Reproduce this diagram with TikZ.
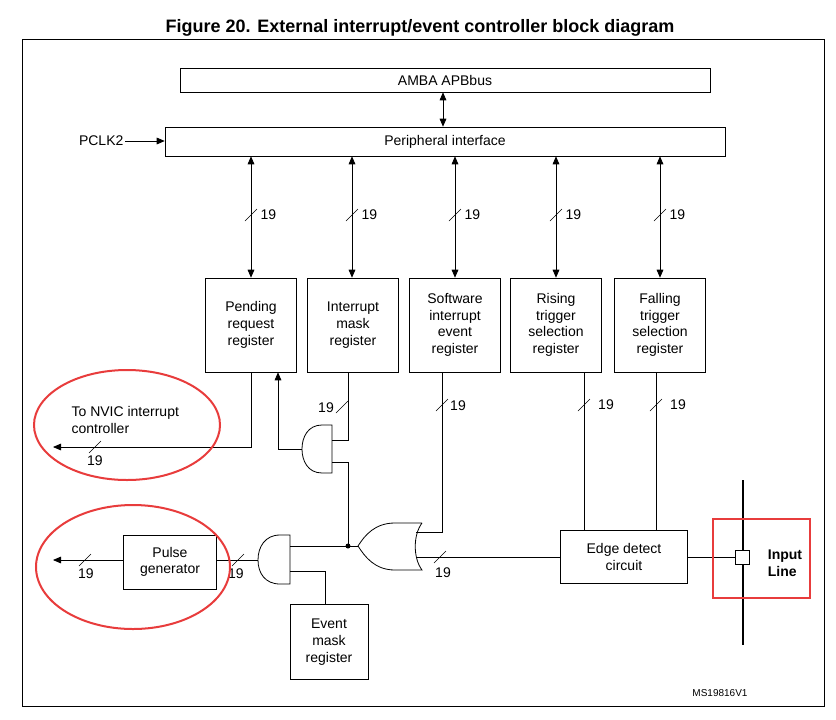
\documentclass[tikz,border=0pt]{standalone}
\usepackage{fontspec}
\setmainfont{Liberation Sans}
\usetikzlibrary{arrows.meta}
\tikzset{
  reg/.style={draw,minimum width=68.25pt,minimum height=70.5pt,inner sep=1pt,align=center,font=\fontsize{10.5}{12.5}\selectfont},
  lbl/.style={font=\fontsize{10.5}{12.5}\selectfont,inner sep=1pt},
  wire/.style={line width=0.6pt},
  dbl/.style={line width=0.6pt,{Triangle[length=6pt,width=5pt]}-{Triangle[length=6pt,width=5pt]}},
  tip/.style={line width=0.6pt,-{Triangle[length=6pt,width=5pt]}},
  redmark/.style={draw={rgb,255:red,232;green,60;blue,60},line width=1.5pt}
}
\newcommand{\busslash}[1]{\draw[line width=0.4pt] ($(#1)+(-6,6)$) -- ($(#1)+(6,-6)$);}
\usetikzlibrary{calc}
\begin{document}
\begin{tikzpicture}[x=0.75pt,y=0.75pt,yscale=-1,xscale=1]
  \useasboundingbox (0,0) rectangle (836,719);
  % title and frame
  \node[font=\bfseries\fontsize{13.5}{15}\selectfont] (title) at (420,28) {Figure 20. External interrupt/event controller block diagram};
  \draw[line width=0.5pt] (22,39) rectangle (824,706);
  % buses
  \node[draw,lbl,minimum width=397.5pt,minimum height=18pt] (amba) at (445,80) {AMBA APBbus};
  \node[draw,lbl,minimum width=420pt,minimum height=21.75pt] (pif) at (445,141.5) {Peripheral interface};
  \node[lbl,anchor=east] (pclk) at (125,141) {PCLK2};
  \draw[tip] (pclk.east) -- (pif.west |- pclk.east);
  \draw[dbl] (amba.south -| 443,0) -- (pif.north -| 443,0);
  % registers
  \node[reg] (pend) at (251,325) {Pending\\request\\register};
  \node[reg] (imask) at (353,325) {Interrupt\\mask\\register};
  \node[reg] (swi) at (455,325) {Software\\interrupt\\event\\register};
  \node[reg] (rise) at (556,325) {Rising\\trigger\\selection\\register};
  \node[reg] (fall) at (660,325) {Falling\\trigger\\selection\\register};
  \foreach \r/\x in {pend/251,imask/352,swi/455,rise/556,fall/660}{
    \draw[dbl] (pif.south -| \x,0) -- (\r.north -| \x,0);
    \busslash{\x,215}
    \node[lbl,anchor=west] at (\x+8,215) {19};
  }
  % logic
  \coordinate (andA) at (302,449);
  \draw[wire] (332,425) -- (322,425) .. controls (308,425) and (302,437) .. (302,449)
     .. controls (302,461) and (308,473) .. (322,473) -- (332,473) -- cycle;
  \coordinate (orA) at (358,546);
  \draw[wire] (422,523) -- (395,523) .. controls (375,523) and (365,535) .. (358,546)
     .. controls (365,557) and (375,570) .. (395,570) -- (422,570)
     .. controls (413,558) and (413,535) .. (422,523);
  \coordinate (andB) at (258,560);
  \draw[wire] (290,535) -- (280,535) .. controls (265,535) and (258,547) .. (258,560)
     .. controls (258,573) and (265,584) .. (280,584) -- (290,584) -- cycle;
  \coordinate (jn) at (348,546);
  \fill (jn) circle[radius=2.5];
  \node[reg,minimum width=58.5pt,minimum height=56pt] (emask) at (329,642) {Event\\mask\\register};
  \node[draw,lbl,align=center,minimum width=69.75pt,minimum height=40.5pt] (pulse) at (170,562) {Pulse\\generator};
  \node[draw,lbl,align=center,minimum width=95.25pt,minimum height=39.75pt] (edge) at (624,557) {Edge detect\\circuit};
  % connections
  \draw[tip] (pend.south) |- (53,447);
  \busslash{95,447}
  \node[lbl] at (95,461) {19};
  \node[lbl,align=left,anchor=west] (nvic) at (70,420) {To NVIC interrupt\\controller};
  \draw[tip] (andA) -- (278,449) -- (pend.south -| 278,0);
  \draw[wire] (imask.south -| 348,0) -- (348,440) -- (332,440);
  \busslash{342,407}
  \node[lbl] at (326,408) {19};
  \draw[wire] (jn) -- (348,462) -- (332,462);
  \draw[wire] (orA) -- (jn) -- (290,546);
  \draw[wire] (swi.south -| 442,0) -- (442,532) -- (416,532);
  \busslash{442,405}
  \node[lbl] at (458,406) {19};
  \draw[wire] (edge.west) -- (416,557);
  \busslash{440,557}
  \node[lbl] at (443,573) {19};
  \draw[wire] (rise.south -| 584,0) -- (edge.north -| 584,0);
  \busslash{584,405}
  \node[lbl] at (606,405) {19};
  \draw[wire] (fall.south -| 656,0) -- (edge.north -| 656,0);
  \busslash{656,405}
  \node[lbl] at (678,405) {19};
  \draw[wire] (emask.north -| 325,0) -- (325,571) -- (290,571);
  \draw[wire] (andB) -- (andB -| pulse.east);
  \busslash{238,560}
  \node[lbl] at (236,574) {19};
  \draw[tip] (pulse.west |- andB) -- (53,560);
  \busslash{85,560}
  \node[lbl] at (86,574) {19};
  % input line
  \draw[line width=2.2pt] (743,480) -- (743,645);
  \node[draw,fill=white,minimum size=10.5pt,inner sep=0pt] (pin) at (742,557) {};
  \draw[wire] (edge.east) -- (pin.west);
  \node[font=\bfseries\fontsize{10.5}{12.5}\selectfont,align=left] (inl) at (785,563) {Input\\Line};
  % highlight marks
  \draw[redmark] (713,519) rectangle (810,598);
  \draw[redmark] (127,425) ellipse[x radius=93,y radius=55];
  \draw[redmark] (133,567) ellipse[x radius=97,y radius=62];
  \node[font=\fontsize{7.5}{9}\selectfont] (code) at (720,693) {MS19816V1};
\end{tikzpicture}
\end{document}
